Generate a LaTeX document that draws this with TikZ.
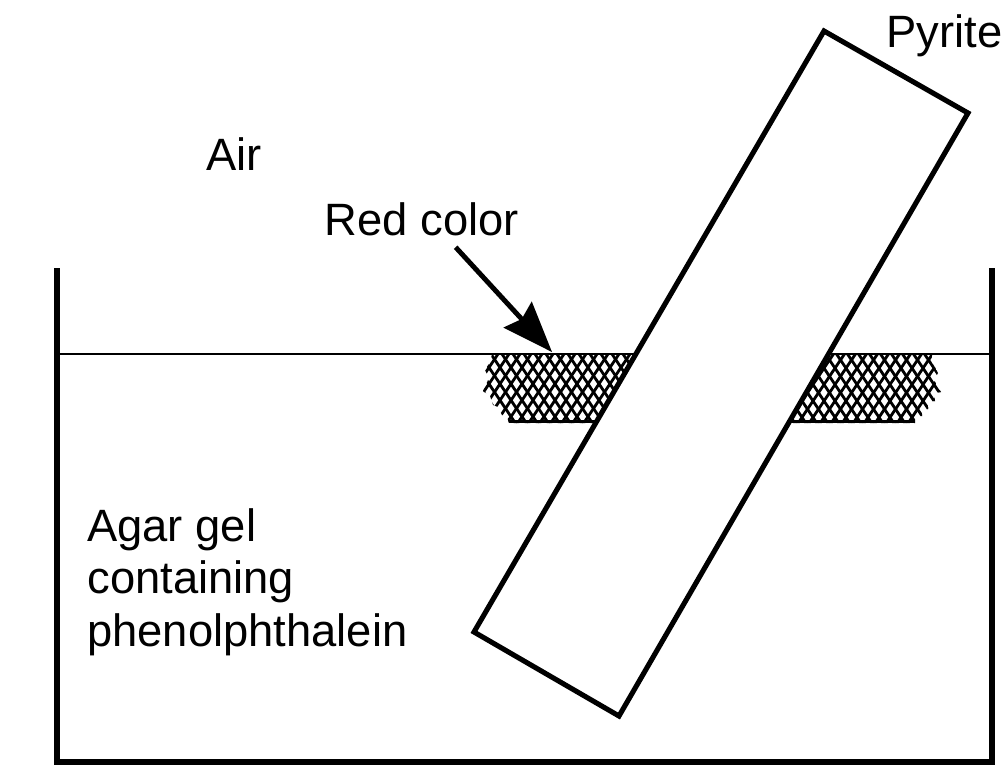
\documentclass[tikz,border=0pt]{standalone}
\usepackage{fontspec}
\setmainfont{Liberation Sans}
\usetikzlibrary{arrows.meta}

\tikzset{
    wall/.style={line width=2.9pt, line cap=rect},
    label/.style={font=\fontsize{25.8}{30}\selectfont, inner sep=0pt},
    hatch/.style={line width=1.6pt},
    pointer/.style={line width=2.8pt, -{Stealth[length=29pt, width=22pt, inset=3.5pt, line width=0pt]}}
}

\begin{document}
\begin{tikzpicture}[x=0.02cm, y=-0.02cm]

    \useasboundingbox (0, 0) rectangle (1008, 772);

    % Gel surface
    \draw[line width=1.4pt] (57, 354) -- (992, 354);

    % Red color patch, left of the pyrite
    \begin{scope}
        \clip (492, 354) -- (490, 362) -- (485, 370) -- (489, 378) -- (483, 391) -- (490, 396) -- (493, 405) -- (498, 407) -- (502, 415) -- (507, 417) -- (509, 423) -- (640, 423) -- (640, 354) -- cycle;
        \foreach \k in {0,...,20} {
            \draw[hatch] (\k*11+446.95, 354) -- ++(50, 74.5);
            \draw[hatch] (\k*11+487.05, 354) -- ++(-50, 74.5);
        }
        \draw[hatch] (480, 421.5) -- (640, 421.5);
    \end{scope}

    % Red color patch, right of the pyrite
    \begin{scope}
        \clip (780, 354) -- (932, 354) -- (932, 362) -- (938, 373) -- (934, 380) -- (941, 392) -- (934, 393) -- (935, 401) -- (928, 401) -- (928, 409) -- (922, 409) -- (922, 416) -- (915, 417) -- (915, 423) -- (780, 423) -- cycle;
        \foreach \k in {0,...,20} {
            \draw[hatch] (\k*11+737.5, 354) -- ++(50, 74.5);
            \draw[hatch] (\k*11+789.5, 354) -- ++(-50, 74.5);
        }
        \draw[hatch] (780, 421.5) -- (915, 421.5);
    \end{scope}

    % Container
    \draw[wall, line cap=butt, line join=miter] (57, 268) -- (57, 762) -- (992, 762) -- (992, 268);

    % Pyrite
    \draw[wall, fill=white, line join=miter] (824, 31) -- (968, 113) -- (619, 716) -- (474, 632) -- cycle;

    % Labels
    \node[label, anchor=base west] (pyrite) at (886, 47) {Pyrite};
    \node[label, anchor=base west] (air) at (206, 170) {Air};
    \node[label, anchor=base west, inner sep=6.5pt] (redcolor) at (313, 235) {Red color};
    \node[label, anchor=west, align=left] (agar) at (87, 582) {Agar gel\\containing\\phenolphthalein};

    % Arrow to the patch
    \coordinate (redtip) at (552, 352);
    \draw[pointer] (redcolor.-40) -- (redtip);

\end{tikzpicture}
\end{document}
